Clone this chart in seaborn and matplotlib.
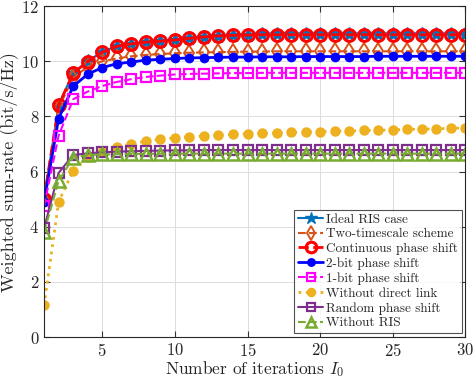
import numpy as np
import pandas as pd
import matplotlib
matplotlib.use('Agg')
import matplotlib.pyplot as plt
import seaborn as sns

iters = list(range(1, 31))

ideal_ris = [5.0, 8.42, 9.58, 10.0, 10.34, 10.55, 10.64, 10.7, 10.74, 10.78, 10.84, 10.89, 10.93, 10.95, 10.96,
             10.97, 10.97, 10.97, 10.97, 10.97, 10.97, 10.97, 10.97, 10.97, 10.97, 10.97, 10.97, 10.97, 10.97, 10.97]
two_timescale = [5.0, 8.3, 9.4, 9.8, 10.0, 10.1, 10.18, 10.23, 10.26, 10.29, 10.31, 10.32, 10.33, 10.34, 10.35,
                 10.35, 10.36, 10.36, 10.36, 10.36, 10.36, 10.36, 10.36, 10.36, 10.36, 10.36, 10.36, 10.36, 10.36, 10.36]
continuous = [5.0, 8.4, 9.56, 9.99, 10.33, 10.54, 10.63, 10.69, 10.73, 10.77, 10.83, 10.88, 10.92, 10.94, 10.95,
              10.96, 10.96, 10.96, 10.96, 10.96, 10.96, 10.96, 10.96, 10.96, 10.96, 10.96, 10.96, 10.96, 10.96, 10.96]
two_bit = [4.9, 7.92, 9.09, 9.53, 9.77, 9.91, 9.97, 10.04, 10.07, 10.1, 10.12, 10.13, 10.14, 10.15, 10.15,
           10.16, 10.16, 10.16, 10.17, 10.17, 10.17, 10.17, 10.17, 10.18, 10.18, 10.18, 10.18, 10.18, 10.18, 10.18]
one_bit = [4.75, 7.3, 8.62, 8.9, 9.1, 9.25, 9.35, 9.43, 9.48, 9.52, 9.54, 9.55, 9.56, 9.57, 9.57,
           9.58, 9.58, 9.58, 9.58, 9.58, 9.58, 9.58, 9.58, 9.58, 9.58, 9.58, 9.58, 9.58, 9.58, 9.58]
no_direct = [1.15, 4.9, 6.03, 6.53, 6.71, 6.88, 7.0, 7.1, 7.17, 7.22, 7.26, 7.29, 7.32, 7.35, 7.37,
             7.39, 7.4, 7.42, 7.43, 7.45, 7.46, 7.47, 7.49, 7.5, 7.51, 7.53, 7.54, 7.55, 7.57, 7.58]
random_phase = [3.94, 5.95, 6.6, 6.66, 6.7, 6.72, 6.74, 6.75, 6.76, 6.77, 6.77, 6.78, 6.78, 6.78, 6.78,
                6.78, 6.78, 6.78, 6.78, 6.78, 6.78, 6.78, 6.78, 6.78, 6.78, 6.78, 6.78, 6.78, 6.78, 6.78]
no_ris = [3.8, 5.66, 6.5, 6.6, 6.62, 6.63, 6.64, 6.64, 6.65, 6.65, 6.65, 6.65, 6.65, 6.65, 6.65,
          6.65, 6.65, 6.65, 6.65, 6.65, 6.65, 6.65, 6.65, 6.65, 6.65, 6.65, 6.65, 6.65, 6.65, 6.65]

labels = ['Ideal RIS case', 'Two-timescale scheme', 'Continuous phase shift', '2-bit phase shift',
          '1-bit phase shift', 'Without direct link', 'Random phase shift', 'Without RIS']
series = [ideal_ris, two_timescale, continuous, two_bit, one_bit, no_direct, random_phase, no_ris]

styles = [
    dict(color='#0072BD', linestyle='-', marker='*', ms=10, mfc='#0072BD', mew=1.0, lw=1.5),
    dict(color='#D95319', linestyle='--', marker='d', ms=8, mfc='none', mew=1.4, lw=1.5),
    dict(color='#FF0000', linestyle='--', marker='o', ms=8.5, mfc='none', mew=2.2, lw=2.0),
    dict(color='#0000FF', linestyle='-', marker='o', ms=6, mfc='#0000FF', mew=1.0, lw=2.0),
    dict(color='#FF00FF', linestyle='--', marker='s', ms=6.5, mfc='none', mew=1.6, lw=1.5),
    dict(color='#EDB120', linestyle=':', marker='o', ms=6.5, mfc='#EDB120', mew=1.0, lw=2.0),
    dict(color='#7E2F8E', linestyle='-', marker='s', ms=6.5, mfc='none', mew=1.6, lw=1.5),
    dict(color='#77AC30', linestyle='--', marker='^', ms=8, mfc='none', mew=1.8, lw=1.5),
]

sns.set_style('ticks')
plt.rcParams['font.family'] = ['cmr10', 'DejaVu Serif']
plt.rcParams['mathtext.fontset'] = 'cm'
plt.rcParams['axes.formatter.use_mathtext'] = True

fig = plt.figure(figsize=(4.74, 3.8), dpi=100)
ax = fig.add_axes([0.093, 0.113, 0.889, 0.871])

for lab, vals, st in zip(labels, series, styles):
    df = pd.DataFrame({'iter': iters, 'rate': vals})
    sns.lineplot(data=df, x='iter', y='rate', ax=ax, label=lab, color=st['color'],
                 linestyle=st['linestyle'], marker=st['marker'], markersize=st['ms'],
                 markerfacecolor=st['mfc'], markeredgecolor=st['color'],
                 markeredgewidth=st['mew'], linewidth=st['lw'])

ax.set_xlim(1, 30)
ax.set_ylim(0, 12)
ax.set_xticks([5, 10, 15, 20, 25, 30])
ax.set_yticks([0, 2, 4, 6, 8, 10, 12])
ax.grid(True, color='#dddddd', linewidth=0.7)
ax.tick_params(direction='in', top=True, right=True, labelsize=12, length=4, color='#333333')
for s in ax.spines.values():
    s.set_color('#262626')
    s.set_linewidth(0.8)
ax.set_xlabel('Number of iterations $I_0$', fontsize=12.5, labelpad=0)
ax.set_ylabel('Weighted sum-rate (bit/s/Hz)', fontsize=13, labelpad=2)

leg = ax.legend(loc='lower right', fontsize=9.5, frameon=True, fancybox=False, edgecolor='#262626',
                handlelength=1.9, handletextpad=0.2, borderpad=0.3, labelspacing=0.18,
                borderaxespad=0.3, markerscale=0.9)
leg.get_frame().set_linewidth(0.8)

plt.savefig('out.png', dpi=100)
